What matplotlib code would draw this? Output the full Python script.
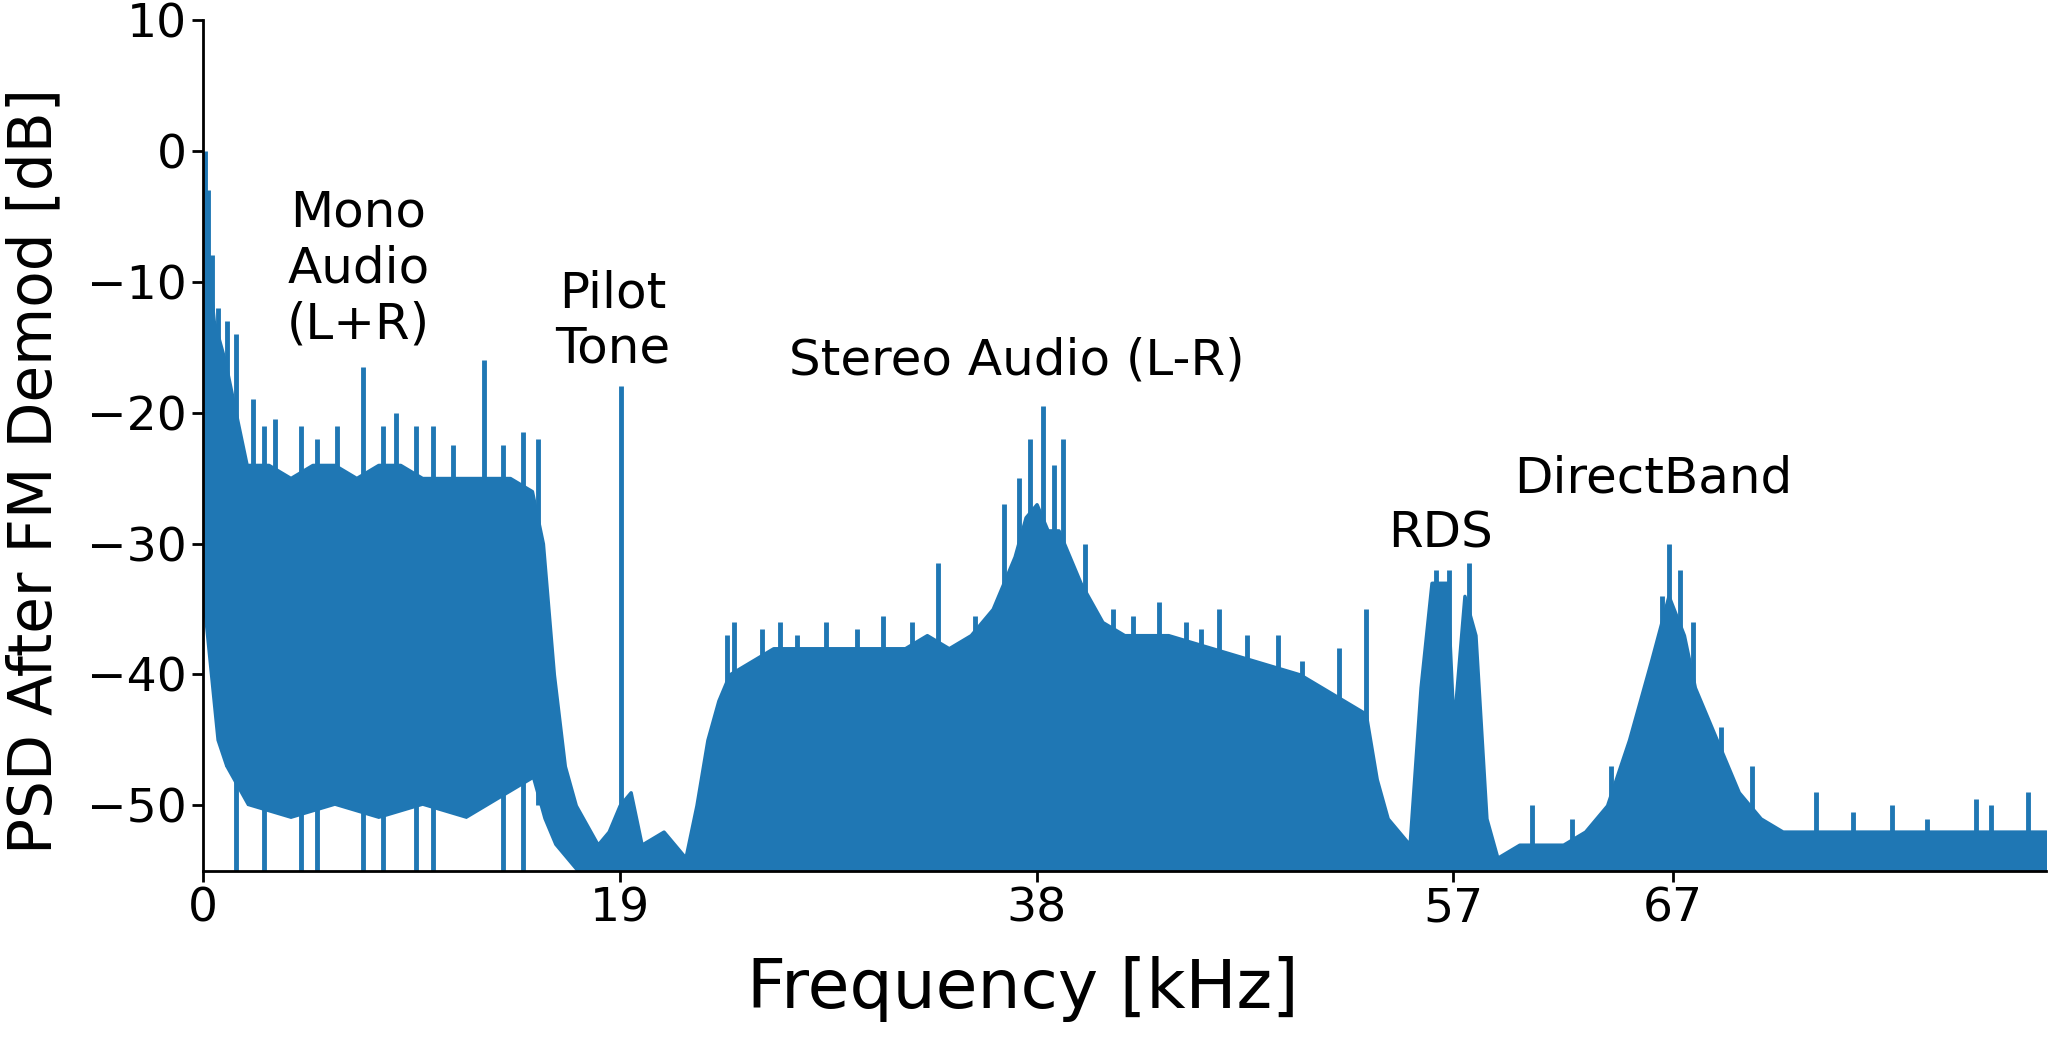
import matplotlib
matplotlib.use("Agg")
import matplotlib.pyplot as plt

# envelope (kHz, dB)
env_f = [0, 0.2, 0.5, 1, 2, 3, 4, 5, 6, 7, 8, 9, 10, 11, 12, 13, 14, 15, 15.5, 16, 16.5, 17, 18, 18.5, 19, 19.5,
         20, 21, 22, 22.5, 23, 23.5, 24, 25, 26, 28, 30, 32, 33, 34, 35, 36, 37, 37.5, 38, 38.5, 39, 40, 41, 42,
         44, 46, 48, 50, 51, 52, 53, 53.5, 54, 55, 55.5, 56, 56.7, 57, 57.5, 58, 58.5, 59, 60, 62, 63, 64, 65, 66,
         66.8, 67.5, 68, 69, 70, 71, 72, 74, 78, 84]
env_hi = [-5, -8, -13, -16, -24, -24, -25, -24, -24, -25, -24, -24, -25, -25, -25, -25, -25, -26, -30, -40, -47,
          -50, -53, -52, -50, -49, -53, -52, -54, -50, -45, -42, -40, -39, -38, -38, -38, -38, -37, -38, -37,
          -35, -31, -28, -27, -29, -29, -33, -36, -37, -37, -38, -39, -40, -41, -42, -43, -48, -51, -53, -41,
          -33, -33, -44, -34, -37, -51, -54, -53, -53, -52, -50, -45, -39, -34, -37, -41, -45, -49, -51, -52,
          -52, -52, -52]
mono_f = [0, 0.3, 0.6, 1, 2, 4, 6, 8, 10, 12, 14, 15, 15.5, 16, 16.5, 17]
mono_lo = [-35, -40, -45, -47, -50, -51, -50, -51, -50, -51, -49, -48, -51, -53, -54, -55]

spike_f = [0.1, 0.25, 0.4, 0.7, 1.1, 1.5, 2.3, 2.8, 3.3, 4.5, 5.2, 6.1, 7.3, 8.2, 8.8, 9.7, 10.5, 11.4, 12.8,
           13.7, 14.6, 15.3, 19.05, 24.2, 27.1, 29.8, 33.5, 36.5, 37.2, 37.7, 38.3, 38.8, 39.2, 40.2, 43.6, 46.3,
           51.8, 53.0, 56.2, 56.8, 57.7, 64.2, 66.5, 66.8, 67.3, 67.9, 73.5, 78.6, 80.8, 83.2,
           23.9, 25.5, 26.3, 28.4, 31.0, 32.3, 35.2, 41.5, 42.4, 44.8, 45.5, 47.6, 49.0, 50.1, 60.6, 62.4, 69.2,
           70.6, 75.2, 77.0, 81.5]
spike_db = [0, -3, -8, -12, -13, -14, -19, -21, -20.5, -21, -22, -21, -16.5, -21, -20, -21, -21, -22.5, -16,
            -22.5, -21.5, -22, -18, -36, -37, -36.5, -31.5, -27, -25, -22, -19.5, -24, -22, -30, -34.5, -35,
            -38, -35, -32, -32, -31.5, -47, -34, -30, -32, -36, -49, -51, -49.5, -49,
            -37, -36.5, -36, -36, -35.5, -36, -35.5, -35, -35.5, -36, -36.5, -37, -37, -39, -50, -51, -44,
            -47, -50.5, -50, -50]
spike_lo = [-35, -35, -40, -44, -47, -55, -50, -55, -49, -55, -55, -50, -55, -55, -48, -55, -55, -50, -49,
            -55, -55, -50, -50, -55, -55, -55, -55, -55, -55, -55, -55, -55, -55, -55, -55, -55,
            -55, -55, -55, -55, -55, -55, -55, -55, -55, -55, -55, -55, -55, -55,
            -55, -55, -55, -55, -55, -55, -55, -55, -55, -55, -55, -55, -55, -55, -55, -55, -55,
            -55, -55, -55, -55]

xticks = [0, 19, 38, 57, 67]
yticks = [10, 0, -10, -20, -30, -40, -50]
labels = [("Mono\nAudio\n(L+R)", 7.1, -9), ("Pilot\nTone", 18.7, -13), ("Stereo Audio (L-R)", 37.1, -16),
          ("RDS", 56.4, -29.2), ("DirectBand", 66.1, -25)]

c = "#1f77b4"
fig = plt.figure(figsize=(20.48, 10.38), dpi=100)
ax = fig.add_axes([0.099, 0.161, 0.9, 0.82])
ax.fill_between(env_f, -55, env_hi, color=c, lw=2.5, edgecolor=c)
ax.fill_between(mono_f, -55, mono_lo, color="white", lw=0)
ax.vlines(spike_f, spike_lo, spike_db, color=c, lw=3.5)
for t, x, y in labels:
    ax.text(x, y, t, ha="center", va="center", fontsize=36)
ax.set_xlim(0, 84)
ax.set_ylim(-55, 10)
ax.set_xticks(xticks)
ax.set_yticks(yticks)
ax.set_yticklabels(["10", "0", "\u221210", "\u221220", "\u221230", "\u221240", "\u221250"])
ax.tick_params(labelsize=34, width=2, length=8)
for s in ["top", "right"]:
    ax.spines[s].set_visible(False)
for s in ["left", "bottom"]:
    ax.spines[s].set_linewidth(2)
ax.set_xlabel("Frequency [kHz]", fontsize=49, labelpad=4)
ax.xaxis.set_label_coords(0.445, -0.1)
ax.set_ylabel("PSD After FM Demod [dB]", fontsize=43, labelpad=4)
ax.yaxis.set_label_coords(-0.075, 0.47)
fig.savefig("out.png", dpi=100)
